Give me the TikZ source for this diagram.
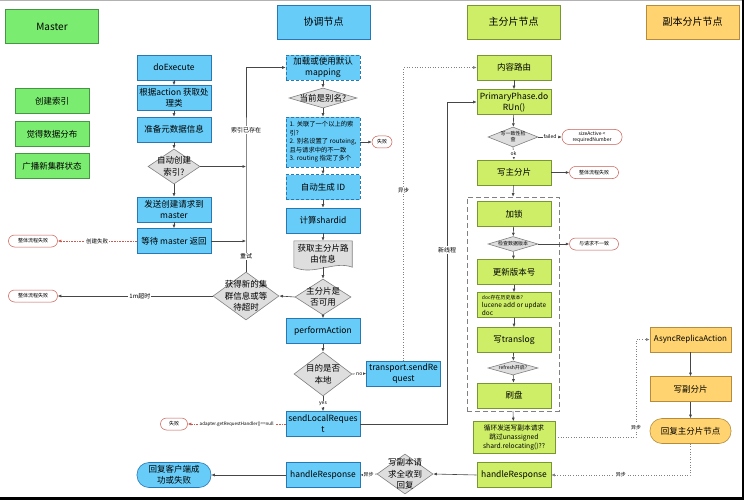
\documentclass[tikz,border=0pt]{standalone}
\usepackage{fontspec}
\setmainfont{Noto Sans CJK SC}
\usetikzlibrary{arrows.meta, shapes.geometric, backgrounds}

\definecolor{bluefill}{RGB}{104,204,248}
\definecolor{blueline}{RGB}{40,120,180}
\definecolor{greenfill}{RGB}{122,236,112}
\definecolor{greenline}{RGB}{70,150,70}
\definecolor{limefill}{RGB}{206,238,104}
\definecolor{limeline}{RGB}{120,150,50}
\definecolor{orangefill}{RGB}{255,212,112}
\definecolor{orangeline}{RGB}{180,140,60}
\definecolor{diafill}{RGB}{222,222,222}
\definecolor{failred}{RGB}{200,90,80}
\definecolor{linegray}{RGB}{70,70,70}

\newcommand{\fsz}[2]{\fontsize{#1}{#2}\selectfont}

\begin{document}
\begin{tikzpicture}[x=1pt, y=-1pt,
    base/.style = {draw, minimum width=74pt, minimum height=25pt, inner sep=1pt,
                   align=center, font=\fsz{8.5}{11}, line width=0.6pt},
    cbox/.style = {base, draw=blueline, fill=bluefill},
    cdash/.style = {cbox, densely dashed},
    pbox/.style = {base, draw=limeline, fill=limefill},
    rbox/.style = {base, draw=orangeline, fill=orangefill, minimum width=81pt},
    gbox/.style = {base, draw=greenline, fill=greenfill},
    head/.style = {minimum width=93pt, minimum height=34pt, font=\fsz{10}{12}},
    dia/.style = {diamond, draw=gray, fill=diafill, inner sep=0pt, line width=0.6pt},
    dtext/.style = {align=center, font=\fsz{8.5}{11.5}},
    tiny/.style = {font=\fsz{5}{6}},
    fail/.style = {draw=failred, fill=white, rounded corners=6pt, minimum height=12pt,
                   minimum width=49pt, inner sep=1.5pt, font=\fsz{5}{6}, line width=0.5pt},
    lbl/.style = {fill=white, inner sep=1pt, font=\fsz{6}{7}},
    arr/.style = {draw=linegray, line width=0.6pt, -{Latex[length=3.5pt,width=3pt]}},
    dots/.style = {arr, draw=gray, dotted},
    reddots/.style = {arr, draw=failred, densely dotted}
  ]
\useasboundingbox (0,0) rectangle (744,500);
\draw[gray!60] (0,0.5) -- (742,0.5);
\fill[black] (0,497) rectangle (744,500);
\fill[black] (742,0) rectangle (744,500);

% headers
\node[gbox, head] (mhead) at (52,26.5) {Master};
\node[cbox, head] (chead) at (323.5,22) {协调节点};
\node[pbox, head] (phead) at (513.5,22) {主分片节点};
\node[rbox, head] (rhead) at (692.5,22) {副本分片节点};

\node[gbox] (idx)   at (52,101) {创建索引};
\node[gbox] (alloc) at (52,134) {觉得数据分布};
\node[gbox] (bcast) at (52,166) {广播新集群状态};

% master side
\node[cbox] (exec) at (174,67.5) {doExecute};
\node[cbox] (cls)  at (174,98) {根据action 获取处\\理类};
\node[cbox] (meta) at (174,129.5) {准备元数据信息};
\node[dia, minimum width=52pt, minimum height=35pt,
      label={[dtext]center:{自动创建\\索引?}}] (auto) at (174,166.5) {};
\node[cbox] (send) at (174,209.5) {发送创建请求到\\master};
\node[cbox] (wait) at (174,241) {等待 master 返回};
\node[dia, minimum width=66pt, minimum height=48pt,
      label={[dtext]center:{获得新的集\\群信息或等\\待超时}}] (retry) at (246,296) {};
\node[fail] (fail1) at (33,241) {整体流程失败};
\node[fail] (fail2) at (33,296) {整体流程失败};
\node[cbox, rounded corners=12pt] (client) at (174,475) {回复客户端成\\功或失败};

% coordinating node
\node[cdash] (mapping) at (323,67.5) {加载或使用默认\\mapping};
\node[dia, minimum width=68pt, minimum height=20pt,
      label={[dtext]center:当前是别名?}] (alias) at (323,98) {};
\node[cdash, minimum height=50pt, align=left, font=\fsz{6.3}{8.5}] (rules) at (323,142)
  {1. 关联了一个以上的索\\引?\\2. 别名设置了 routeing,\\且与请求中的不一致\\3. routing 指定了多个};
\node[fail, minimum width=20pt] (fail3) at (382,142) {失败};
\node[cdash] (genid) at (323,187) {自动生成 ID};
\node[cbox] (shard) at (323,220.5) {计算shardid};
\node[minimum width=58pt, minimum height=26pt, inner sep=0pt, align=center,
      font=\fsz{8.5}{11}] (route) at (323,254) {获取主分片路\\由信息};
\node[dia, minimum width=56pt, minimum height=36pt,
      label={[dtext]center:{主分片是\\否可用}}] (avail) at (323,297) {};
\node[cbox] (perform) at (323,331) {performAction};
\node[dia, minimum width=58pt, minimum height=44pt,
      label={[dtext]center:{目的是否\\本地}}] (local) at (323,374) {};
\node[cbox] (transport) at (403.5,373.5) {transport.sendRe\\quest};
\node[cbox] (sendlocal) at (323,424) {sendLocalReques\\t};
\node[fail, minimum width=27pt] (fail4) at (174,424) {失败};
\node[cbox] (chresp) at (323,475) {handleResponse};
\node[dia, minimum width=56pt, minimum height=40pt,
      label={[dtext]center:{写副本请\\求全收到\\回复}}] (alldone) at (405,474) {};

\begin{scope}[on background layer]
\draw[gray, fill=diafill, line width=0.6pt] (route.north west) -- (route.north east)
  -- (route.south east) .. controls +(-18,-7) and +(20,9) .. (route.south west) -- cycle;
\end{scope}

% primary shard
\node[draw=gray, dash pattern=on 5pt off 3pt, line width=0.6pt,
      minimum width=92pt, minimum height=214pt] (grp) at (513,304) {};
\node[pbox] (router) at (514,67.5) {内容路由};
\node[pbox] (dorun) at (514,102) {PrimaryPhase.do\\RUn()};
\node[dia, minimum width=50pt, minimum height=20pt,
      label={[dtext, tiny]center:{写一致性检\\查}}] (consist) at (513,137) {};
\node[fail, align=center, minimum width=60pt, minimum height=15pt, rounded corners=7pt]
  (sizefail) at (592,137) {sizeActive <\\requiredNumber};
\node[pbox] (writep) at (514,172.5) {写主分片};
\node[fail] (fail5) at (594,172.5) {整体流程失败};
\node[pbox] (lock) at (514,214) {加锁};
\node[dia, minimum width=50pt, minimum height=15pt,
      label={[dtext, tiny]center:检查数据版本}] (ver) at (513,244) {};
\node[fail] (fail6) at (594,244) {与请求不一致};
\node[pbox] (bump) at (514,272) {更新版本号};
\node[pbox, align=left, inner sep=2pt, font=\fsz{6.5}{8}] (docver) at (514,305)
  {{\fsz{5}{6}doc存在历史版本?}\\lucene add or update\\doc};
\node[pbox] (translog) at (514,340) {写translog};
\node[dia, minimum width=50pt, minimum height=14pt,
      label={[dtext, tiny]center:refresh开启?}] (refresh) at (513,368) {};
\node[pbox] (flush) at (514,395.5) {刷盘};
\node[pbox, minimum width=82pt, minimum height=32pt, font=\fsz{6.7}{9}] (loop) at (514,437.5)
  {循环发送写副本请求\\跳过unassigned\\shard.relocating()??};
\node[pbox] (hresp) at (514,475) {handleResponse};

% replica shard
\node[rbox, font=\fsz{8}{10}] (async) at (690.5,339.5) {AsyncReplicaAction};
\node[rbox] (wrep) at (690.5,389) {写副分片};
\node[rbox, rounded corners=12pt] (replyp) at (690.5,431) {回复主分片节点};

\coordinate (top) at (246,67.5);
\coordinate (j1) at (246,166.5);
\coordinate (j2) at (246,241);
\coordinate (t2) at (447,102);
\coordinate (rj) at (636,437.5);

% connectors
\draw[arr] (exec) -- (cls);
\draw[arr] (cls) -- (meta);
\draw[arr] (meta) -- (auto);
\draw[arr] (auto) -- (send);
\draw[arr] (send) -- (wait);
\draw[arr] (auto.east) -- (j1);
\draw[arr] (wait.east) -- (j2);
\draw[arr] (retry.north) -- node[lbl]{重试} (j2) -- (j1)
  -- node[lbl, pos=0.37]{索引已存在} (top) -- (mapping.west);
\draw[reddots] (wait.west) -- node[lbl, font=\fsz{5.5}{6}]{创建失败} (fail1.east);
\draw[arr] (retry.west) -- node[lbl, pos=0.47]{1m超时} (fail2.east);
\draw[arr] (avail.west) -- (retry.east);

\draw[arr] (mapping) -- (alias);
\draw[arr] (alias) -- (rules);
\draw[arr] (rules.east) -- (fail3.west);
\draw[arr] (rules) -- (genid);
\draw[arr] (genid) -- (shard);
\draw[arr] (shard) -- (route);
\draw[arr] (route) -- (avail);
\draw[arr] (avail) -- (perform);
\draw[arr] (perform) -- (local);
\draw[arr] (local.east) -- node[lbl, tiny]{no} (transport.west);
\draw[arr] (local.south) -- node[lbl, tiny]{yes} (sendlocal.north);
\draw[reddots] (sendlocal.west) -- node[lbl, font=\fsz{4.5}{5}]{adapter.getRequestHandler()==null} (fail4.east);
\draw[dots] (transport.north) |- node[lbl, pos=0.29, font=\fsz{5.5}{6}]{异步} (router.west);
\draw[arr] (sendlocal.east) -| node[lbl, pos=0.77]{新线程} (t2) -- (dorun.west);

\draw[arr] (router) -- (dorun);
\draw[arr] (dorun) -- (consist);
\draw[arr] (consist.east) -- node[lbl, tiny]{failed} (sizefail.west);
\draw[arr] (consist.south) -- node[lbl, tiny]{ok} (writep.north);
\draw[arr] (writep.east) -- (fail5.west);
\draw[arr] (writep) -- (grp.north);
\draw[arr] (lock) -- (ver);
\draw[arr] (ver.east) -- (fail6.west);
\draw[arr] (ver) -- (bump);
\draw[arr] (bump) -- (docver);
\draw[arr] (docver) -- (translog);
\draw[arr] (translog) -- (refresh);
\draw[arr] (refresh) -- (flush);
\draw[arr] (grp.south) -- (loop);

\draw[dots] (loop.east) -- (rj) |- node[lbl, pos=0.05, font=\fsz{5}{6}]{异步} (async.west);
\draw[arr] (async) -- (wrep);
\draw[arr] (wrep) -- (replyp);
\draw[dots] (replyp.south) |- node[lbl, pos=0.75, font=\fsz{5}{6}]{异步} (hresp.east);
\draw[arr] (hresp.west) -- (alldone.east);
\draw[arr] (alldone.west) -- node[lbl, font=\fsz{5}{6}]{异步} (chresp.east);
\draw[arr] (chresp.west) -- (client.east);
\end{tikzpicture}
\end{document}
